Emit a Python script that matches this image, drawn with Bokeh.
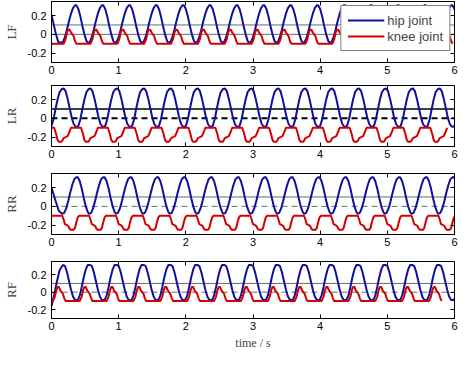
from bokeh.plotting import figure
from bokeh.models import Range1d, FixedTicker, LinearAxis, Span, Legend, LegendItem
from bokeh.layouts import column
from bokeh.embed import file_html
from bokeh.resources import INLINE

# ---------------- data ----------------
PERIOD = 0.4          # gait period, s
T_END = 6.0

x_ticks = [0, 1, 2, 3, 4, 5, 6]
y_ticks = [-0.2, 0, 0.2]
panel_labels = ["LF", "LR", "RR", "RF"]
series_names = ["hip joint", "knee joint"]

# LF
lf_hip_lead_t = [0.0, 0.06, 0.10]
lf_hip_lead_v = [0.21, 0.02, -0.08]
lf_hip_t0 = 0.14
lf_hip_dt = [0.00, 0.03, 0.06, 0.09, 0.12, 0.15, 0.18, 0.21, 0.23, 0.26, 0.29, 0.32, 0.35, 0.38]
lf_hip_v = [-0.09, -0.08, -0.03, 0.05, 0.14, 0.22, 0.28, 0.31, 0.31, 0.27, 0.19, 0.09, 0.00, -0.07]
lf_knee_t0 = 0.18
lf_knee_dt = [0.00, 0.03, 0.05, 0.07, 0.09, 0.11, 0.13, 0.15, 0.17, 0.19]
lf_knee_v = [-0.10, -0.05, 0.02, 0.05, 0.05, 0.02, 0.00, -0.02, -0.07, -0.10]

# LR
lr_hip_t0 = -0.02
lr_hip_dt = [0.00, 0.02, 0.05, 0.08, 0.11, 0.14, 0.17, 0.20, 0.23, 0.26, 0.29, 0.32, 0.35, 0.38]
lr_hip_v = [-0.09, -0.08, -0.01, 0.10, 0.20, 0.28, 0.31, 0.32, 0.29, 0.21, 0.11, 0.01, -0.06, -0.09]
lr_knee_t0 = 0.04
lr_knee_dt = [0.00, 0.03, 0.05, 0.07, 0.10, 0.12, 0.14, 0.17, 0.20, 0.23, 0.25]
lr_knee_v = [-0.10, -0.17, -0.23, -0.25, -0.25, -0.24, -0.21, -0.20, -0.19, -0.14, -0.10]

# RR
rr_hip_lead_t = [0.0, 0.06, 0.11]
rr_hip_lead_v = [0.20, 0.06, -0.05]
rr_hip_t0 = 0.16
rr_hip_dt = [0.00, 0.03, 0.06, 0.09, 0.12, 0.15, 0.18, 0.21, 0.23, 0.26, 0.29, 0.32, 0.35, 0.38]
rr_hip_v = [-0.08, -0.07, -0.02, 0.06, 0.15, 0.23, 0.29, 0.31, 0.31, 0.27, 0.19, 0.09, 0.00, -0.06]
rr_knee_t0 = 0.16
rr_knee_dt = [0.00, 0.02, 0.04, 0.07, 0.09, 0.11, 0.13, 0.17, 0.19, 0.21, 0.23, 0.25]
rr_knee_v = [-0.10, -0.14, -0.19, -0.20, -0.21, -0.24, -0.25, -0.25, -0.23, -0.17, -0.12, -0.10]

# RF
rf_hip_lead_t = [0.0, 0.04, 0.08, 0.12]
rf_hip_lead_v = [-0.16, -0.03, 0.12, 0.25]
rf_hip_t0 = 0.17
rf_hip_dt = [0.00, 0.03, 0.06, 0.09, 0.12, 0.15, 0.18, 0.22, 0.25, 0.28, 0.31, 0.34, 0.37]
rf_hip_v = [0.31, 0.30, 0.23, 0.13, 0.03, -0.05, -0.09, -0.09, -0.04, 0.06, 0.17, 0.26, 0.31]
rf_knee_t0 = 0.02
rf_knee_dt = [0.00, 0.03, 0.05, 0.07, 0.09, 0.11, 0.13, 0.15, 0.17, 0.19]
rf_knee_v = [-0.10, -0.05, 0.02, 0.06, 0.06, 0.02, 0.00, -0.02, -0.07, -0.10]

ref_levels = [0.1, 0.0]

# ---------------- helpers ----------------
def build(t0, dt, v, lead_t=(), lead_v=()):
    ts, vs = list(lead_t), list(lead_v)
    k = 0 if lead_t else -1
    while t0 + k * PERIOD <= T_END:
        for d, y in zip(dt, v):
            ts.append(round(t0 + k * PERIOD + d, 4))
            vs.append(y)
        k += 1
    return ts, vs

panels = [
    (build(lf_hip_t0, lf_hip_dt, lf_hip_v, lf_hip_lead_t, lf_hip_lead_v),
     build(lf_knee_t0, lf_knee_dt, lf_knee_v)),
    (build(lr_hip_t0, lr_hip_dt, lr_hip_v),
     build(lr_knee_t0, lr_knee_dt, lr_knee_v)),
    (build(rr_hip_t0, rr_hip_dt, rr_hip_v, rr_hip_lead_t, rr_hip_lead_v),
     build(rr_knee_t0, rr_knee_dt, rr_knee_v)),
    (build(rf_hip_t0, rf_hip_dt, rf_hip_v, rf_hip_lead_t, rf_hip_lead_v),
     build(rf_knee_t0, rf_knee_dt, rf_knee_v)),
]

# reference-line styles per panel: (color, width, dash of 0-line, width of 0-line)
ref_styles = [
    ("#6a6a6a", 1, "solid", 1),
    ("#000000", 1.5, "6 4", 2),
    ("#6a6a6a", 1, "6 4", 1),
    ("#6a6a6a", 1, "6 4", 1),
]

heights = [84, 88, 88, 92]
borders_top = [1, 1, 1, 1]
borders_bottom = [22, 26, 26, 30]

HIP_COLOR = "#10109c"
KNEE_COLOR = "#d40000"
SANS = "Liberation Sans"
SERIF = "Liberation Serif"

figs = []
for i, (label, (hip, knee)) in enumerate(zip(panel_labels, panels)):
    p = figure(title=None, width=458, height=heights[i], x_range=Range1d(0, T_END),
               y_range=Range1d(-0.3, 0.35),
               output_backend="svg", toolbar_location=None,
               min_border_left=40, min_border_right=4,
               min_border_top=borders_top[i], min_border_bottom=borders_bottom[i])
    p.xgrid.visible = False
    p.ygrid.visible = False
    p.outline_line_color = "black"
    p.outline_line_alpha = 1
    p.background_fill_color = "white"
    p.border_fill_color = "white"

    for ax in (p.xaxis[0], p.yaxis[0]):
        ax.major_tick_in = 4
        ax.major_tick_out = 0
        ax.minor_tick_line_color = None
        ax.axis_line_color = "black"
        ax.major_tick_line_color = "black"
        ax.major_label_text_font = SANS
        ax.major_label_text_font_size = "11px"
        ax.major_label_text_color = "black"
    p.xaxis[0].ticker = FixedTicker(ticks=x_ticks)
    p.yaxis[0].ticker = FixedTicker(ticks=y_ticks)
    p.xaxis[0].major_label_standoff = 3
    p.yaxis[0].major_label_standoff = 5
    p.yaxis[0].major_label_overrides = {-0.2: "-0.2", 0: "0", 0.2: "0.2"}
    p.yaxis[0].axis_label = label
    p.yaxis[0].axis_label_text_font = SERIF
    p.yaxis[0].axis_label_text_font_size = "13px"
    p.yaxis[0].axis_label_text_font_style = "normal"
    p.yaxis[0].axis_label_standoff = 6
    if i == 3:
        p.xaxis[0].axis_label = "time / s"
        p.xaxis[0].axis_label_text_font = SERIF
        p.xaxis[0].axis_label_text_font_size = "12px"
        p.xaxis[0].axis_label_text_font_style = "normal"
        p.xaxis[0].axis_label_standoff = 3

    # mirrored tick axes (top / right), no labels
    top = LinearAxis(ticker=FixedTicker(ticks=x_ticks), major_tick_in=4, major_tick_out=0,
                     minor_tick_line_color=None, major_label_text_font_size="0px",
                     major_label_text_color=None,
                     major_label_standoff=0, axis_line_color="black")
    right = LinearAxis(ticker=FixedTicker(ticks=y_ticks), major_tick_in=4, major_tick_out=0,
                       minor_tick_line_color=None, major_label_text_font_size="0px",
                       major_label_text_color=None,
                       major_label_standoff=0, axis_line_color="black")
    p.add_layout(top, "above")
    p.add_layout(right, "right")

    col, w1, dash0, w0 = ref_styles[i]
    p.add_layout(Span(location=ref_levels[0], dimension="width", line_color=col,
                      line_width=w1, level="underlay"))
    p.add_layout(Span(location=ref_levels[1], dimension="width", line_color=col,
                      line_width=w0, line_dash=dash0, level="underlay"))

    r_hip = p.line(hip[0], hip[1], line_color=HIP_COLOR, line_width=2)
    r_knee = p.line(knee[0], knee[1], line_color=KNEE_COLOR, line_width=2)

    if i == 0:
        legend = Legend(items=[LegendItem(label=series_names[0], renderers=[r_hip]),
                               LegendItem(label=series_names[1], renderers=[r_knee])],
                        location="top_right")
        legend.label_text_font = SANS
        legend.label_text_font_size = "13px"
        legend.glyph_width = 37
        legend.glyph_height = 16
        legend.label_height = 16
        legend.label_standoff = 3
        legend.spacing = 0
        legend.padding = 6
        legend.margin = 4
        legend.border_line_color = "black"
        legend.border_line_width = 1
        legend.background_fill_alpha = 1
        p.add_layout(legend)
    figs.append(p)

layout = column(*figs, spacing=0)
open("out.html", "w").write(file_html(layout, INLINE))
